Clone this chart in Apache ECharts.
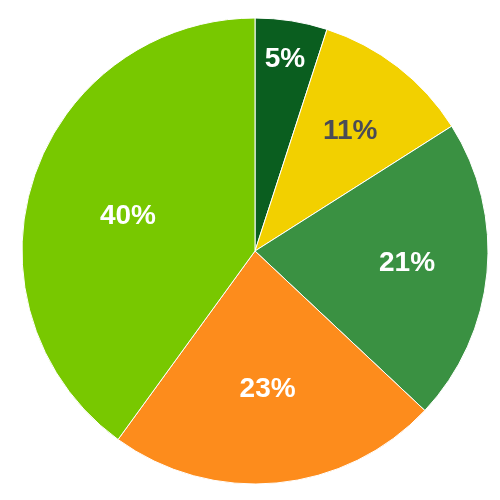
<!DOCTYPE html>
<html>
<head>
<meta charset="utf-8">
<script src="https://cdn.jsdelivr.net/npm/echarts@6/dist/echarts.min.js"></script>
<style>html,body{margin:0;padding:0;background:#fff}#c{width:500px;height:500px}</style>
</head>
<body>
<div id="c"></div>
<script>
// Data
const categories = ['A', 'B', 'C', 'D', 'E'];
const values = [5, 11, 21, 23, 40];
const labels = ['5%', '11%', '21%', '23%', '40%'];

// Styles
const colors = ['#0a5e1f', '#f2d000', '#3a9142', '#fd8c1c', '#78c800'];
const labelColors = ['#ffffff', '#4a4b55', '#ffffff', '#ffffff', '#ffffff'];
const labelRadiusFrac = [0.819, 0.645, 0.642, 0.585, 0.553];
const labelAngleShiftDeg = [-0.1, 0.6, -0.7, 0.2, -2.6];

const cx = 255, cy = 251, R = 233;
const total = values.reduce((a, b) => a + b, 0);
let acc = 0;
const data = values.map((v, i) => {
  const mid = (acc + v / 2) / total * 2 * Math.PI; // clockwise from top
  acc += v;
  const a = mid + labelAngleShiftDeg[i] * Math.PI / 180;
  const rr = labelRadiusFrac[i] * R;
  const h = R / 2;
  return {
    name: categories[i],
    value: v,
    itemStyle: { color: colors[i] },
    label: {
      color: labelColors[i],
      offset: [rr * Math.sin(a) - h * Math.sin(mid), -rr * Math.cos(a) + h * Math.cos(mid)]
    }
  };
});

const chart = echarts.init(document.getElementById('c'));
chart.setOption({
  animation: false,
  series: [{
    type: 'pie',
    center: [cx, cy],
    radius: [0, R],
    startAngle: 90,
    clockwise: true,
    data: data,
    itemStyle: { borderColor: '#ffffff', borderWidth: 1 },
    label: {
      show: true,
      position: 'inside',
      formatter: (p) => labels[p.dataIndex],
      fontFamily: 'Liberation Sans, Arial, sans-serif',
      fontWeight: 'bold',
      fontSize: 28
    },
    labelLine: { show: false },
    emphasis: { disabled: true }
  }]
});
</script>
</body>
</html>
